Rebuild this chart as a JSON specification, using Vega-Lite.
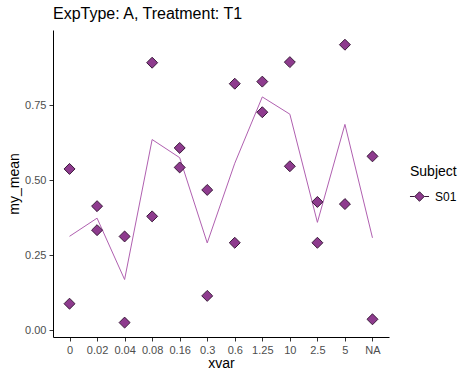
{
  "$schema": "https://vega.github.io/schema/vega-lite/v6.json",
  "width": 336,
  "height": 307,
  "autosize": "none",
  "padding": {"left": 53, "top": 30, "right": 85, "bottom": 42},
  "background": "white",
  "title": {"text": "ExpType: A, Treatment: T1", "anchor": "start", "frame": "group", "font": "Liberation Sans", "fontSize": 16, "fontWeight": "normal", "color": "black", "offset": 8},
  "config": {"view": {"stroke": null}, "font": "Liberation Sans"},
  "data": {"values": [
    {"xvar": "0", "my_mean": 0.537, "Subject": "S01"},
    {"xvar": "0", "my_mean": 0.088, "Subject": "S01"},
    {"xvar": "0.02", "my_mean": 0.413, "Subject": "S01"},
    {"xvar": "0.02", "my_mean": 0.333, "Subject": "S01"},
    {"xvar": "0.04", "my_mean": 0.312, "Subject": "S01"},
    {"xvar": "0.04", "my_mean": 0.025, "Subject": "S01"},
    {"xvar": "0.08", "my_mean": 0.891, "Subject": "S01"},
    {"xvar": "0.08", "my_mean": 0.379, "Subject": "S01"},
    {"xvar": "0.16", "my_mean": 0.607, "Subject": "S01"},
    {"xvar": "0.16", "my_mean": 0.542, "Subject": "S01"},
    {"xvar": "0.3", "my_mean": 0.467, "Subject": "S01"},
    {"xvar": "0.3", "my_mean": 0.114, "Subject": "S01"},
    {"xvar": "0.6", "my_mean": 0.821, "Subject": "S01"},
    {"xvar": "0.6", "my_mean": 0.291, "Subject": "S01"},
    {"xvar": "1.25", "my_mean": 0.828, "Subject": "S01"},
    {"xvar": "1.25", "my_mean": 0.726, "Subject": "S01"},
    {"xvar": "10", "my_mean": 0.893, "Subject": "S01"},
    {"xvar": "10", "my_mean": 0.546, "Subject": "S01"},
    {"xvar": "2.5", "my_mean": 0.427, "Subject": "S01"},
    {"xvar": "2.5", "my_mean": 0.291, "Subject": "S01"},
    {"xvar": "5", "my_mean": 0.951, "Subject": "S01"},
    {"xvar": "5", "my_mean": 0.42, "Subject": "S01"},
    {"xvar": "NA", "my_mean": 0.579, "Subject": "S01"},
    {"xvar": "NA", "my_mean": 0.036, "Subject": "S01"}
  ]},
  "encoding": {
    "x": {"field": "xvar", "type": "ordinal", "sort": ["0","0.02","0.04","0.08","0.16","0.3","0.6","1.25","10","2.5","5","NA"],
      "scale": {"type": "point", "padding": 0.6},
      "axis": {"title": "xvar", "labelAngle": 0, "domainColor": "black", "domainWidth": 1, "tickColor": "#333333", "tickSize": 4, "labelColor": "#4D4D4D", "labelFontSize": 11, "labelPadding": 3, "titleFontSize": 14, "titleFontWeight": "normal", "titleColor": "black", "titlePadding": 1, "grid": false}}
  },
  "layer": [
    {
      "mark": {"type": "line", "color": "#B060B0", "strokeWidth": 1},
      "encoding": {
        "y": {"aggregate": "mean", "field": "my_mean", "type": "quantitative"}
      }
    },
    {
      "mark": {"type": "point", "shape": "diamond", "filled": true, "size": 120, "stroke": "#3A1A3A", "strokeWidth": 1, "opacity": 1},
      "encoding": {
        "y": {"field": "my_mean", "type": "quantitative",
          "scale": {"domain": [-0.023, 1.0], "nice": false, "zero": false},
          "axis": {"title": "my_mean", "values": [0, 0.25, 0.5, 0.75], "format": ".2f", "domainColor": "black", "domainWidth": 1, "tickColor": "#333333", "tickSize": 4, "labelColor": "#4D4D4D", "labelFontSize": 11, "labelPadding": 3, "titleFontSize": 14, "titleFontWeight": "normal", "titleColor": "black", "titlePadding": 3, "grid": false}},
        "fill": {"field": "Subject", "type": "nominal", "scale": {"range": ["#8E3B8E"]},
          "legend": {"title": "Subject", "orient": "none", "legendX": 357, "legendY": 135, "titleFontSize": 14, "titleFontWeight": "normal", "titleColor": "black", "labelFontSize": 12, "labelColor": "black", "symbolType": "M-1.1,0L-0.55,0M0.55,0L1.1,0M0,-0.55L0.55,0L0,0.55L-0.55,0Z", "symbolSize": 300, "symbolStrokeColor": "#3A1A3A", "symbolStrokeWidth": 1, "symbolOpacity": 1, "titlePadding": 8, "labelOffset": 6}}
      }
    }
  ]
}
